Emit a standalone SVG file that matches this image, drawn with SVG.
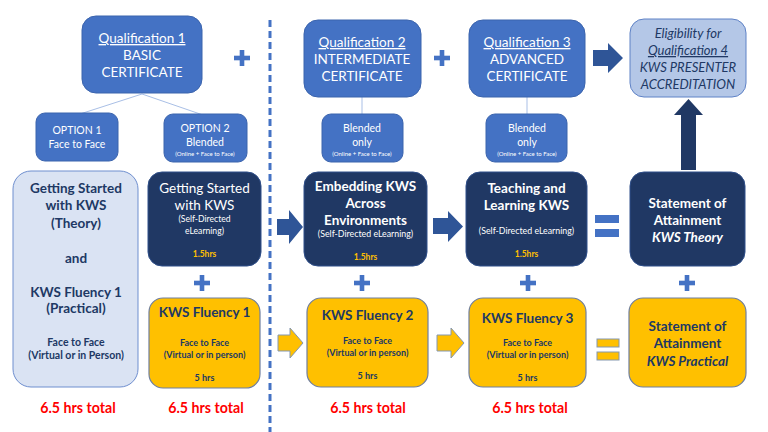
<svg xmlns="http://www.w3.org/2000/svg" width="768" height="432" viewBox="0 0 768 432">
<style>
text{font-family:Lato,"Open Sans",sans-serif;text-anchor:middle}
.q{fill:#4472c4;stroke:#3b64ad;stroke-width:1}
.nv{fill:#203864;stroke:#2f4f8a;stroke-width:1}
.yl{fill:#ffc000;stroke:#6f7fa0;stroke-width:1.2}
.w{fill:#fff}
.d{fill:#203864}
.g{fill:#ffc000;font-weight:bold}
.r{fill:#ff0000;font-weight:bold;font-size:14.2px}
.b{font-weight:bold}
.plus{fill:#4472c4}
.link{stroke:#a9bfe6;stroke-width:1;fill:none}
</style>
<defs>
<g id="plus"><rect x="-8" y="-2.3" width="16" height="4.6"/><rect x="-2.3" y="-8" width="4.6" height="16"/></g>
</defs>
<rect width="768" height="432" fill="#fff"/>
<line x1="270" y1="20" x2="270" y2="432" stroke="#4472c4" stroke-width="3" stroke-dasharray="7,4"/>
<g id="connectors">
<line class="link" x1="142" y1="94" x2="80" y2="114"/>
<line class="link" x1="142" y1="94" x2="203" y2="115"/>
<line class="link" x1="362" y1="97" x2="362" y2="114"/>
<line class="link" x1="527" y1="97" x2="527" y2="114"/>
<polygon points="593,50 608,50 608,43 623,58 608,73 608,66 593,66" fill="#2f5597"/>
<polygon points="681,170 681,115 674,115 688.5,99 703,115 696,115 696,170" fill="#203864"/>
<polygon points="277,219 289,219 289,210 303,227 289,244 289,235 277,235" fill="#2f5597"/>
<polygon points="433,218 448,218 448,211 463,226.5 448,242 448,234 433,234" fill="#2f5597"/>
<polygon points="278,335 290,335 290,328 303,343 290,358 290,351 278,351" fill="#ffc000" stroke="#8497b0" stroke-width="1"/>
<polygon points="437,335 451,335 451,328 464,343 451,358 451,351 437,351" fill="#ffc000" stroke="#8497b0" stroke-width="1"/>
<rect x="595" y="215" width="24" height="8" fill="#4472c4"/>
<rect x="595" y="229" width="24" height="8" fill="#4472c4"/>
<rect x="597" y="339" width="22" height="8" fill="#ffc000" stroke="#8497b0" stroke-width="1"/>
<rect x="597" y="352" width="22" height="8" fill="#ffc000" stroke="#8497b0" stroke-width="1"/>
<use href="#plus" x="242" y="58" class="plus"/>
<use href="#plus" x="442" y="58" class="plus"/>
<use href="#plus" x="202" y="283" class="plus"/>
<use href="#plus" x="362" y="283" class="plus"/>
<use href="#plus" x="528" y="283" class="plus"/>
<use href="#plus" x="687" y="283" class="plus"/>
</g>
<g id="q1">
<rect class="q" x="82" y="16" width="120" height="77" rx="14"/>
<text class="w" font-size="13.5" x="142" y="43" text-decoration="underline">Qualification 1</text>
<text class="w" font-size="13.5" x="142" y="60">BASIC</text>
<text class="w" font-size="13.5" x="142" y="77">CERTIFICATE</text>
</g>
<g id="opt1">
<rect class="q" x="36" y="113" width="82" height="48" rx="9"/>
<text class="w" font-size="10.5" x="77" y="134">OPTION 1</text>
<text class="w" font-size="10.5" x="77" y="148">Face to Face</text>
</g>
<g id="opt2">
<rect class="q" x="164" y="114" width="83" height="48" rx="9"/>
<text class="w" font-size="10.5" x="205" y="132">OPTION 2</text>
<text class="w" font-size="10.5" x="205" y="146">Blended</text>
<text class="w" font-size="6" x="205" y="155.5">(Online + Face to Face)</text>
</g>
<g id="q2">
<rect class="q" x="304" y="20" width="117" height="77" rx="14"/>
<text class="w" font-size="13.5" x="362" y="47" text-decoration="underline">Qualification 2</text>
<text class="w" font-size="13.5" x="362" y="64">INTERMEDIATE</text>
<text class="w" font-size="13.5" x="362" y="81">CERTIFICATE</text>
</g>
<g id="blend2">
<rect class="q" x="322" y="114" width="81" height="48" rx="9"/>
<text class="w" font-size="10.5" x="362" y="132">Blended</text>
<text class="w" font-size="10.5" x="362" y="146">only</text>
<text class="w" font-size="6" x="362" y="155.5">(Online + Face to Face)</text>
</g>
<g id="q3">
<rect class="q" x="469" y="20" width="116" height="77" rx="14"/>
<text class="w" font-size="13.5" x="527" y="47" text-decoration="underline">Qualification 3</text>
<text class="w" font-size="13.5" x="527" y="64">ADVANCED</text>
<text class="w" font-size="13.5" x="527" y="81">CERTIFICATE</text>
</g>
<g id="blend3">
<rect class="q" x="486" y="114" width="81" height="48" rx="9"/>
<text class="w" font-size="10.5" x="527" y="132">Blended</text>
<text class="w" font-size="10.5" x="527" y="146">only</text>
<text class="w" font-size="6" x="527" y="155.5">(Online + Face to Face)</text>
</g>
<g id="elig">
<rect x="630" y="19" width="116" height="78" rx="14" fill="#b4c7e7" stroke="#5f82c6" stroke-width="1"/>
<g font-style="italic" font-size="13" class="d">
<text x="688" y="38">Eligibility for</text>
<text x="688" y="55" text-decoration="underline">Qualification 4</text>
<text x="688" y="72">KWS PRESENTER</text>
<text x="688" y="89">ACCREDITATION</text>
</g>
</g>
<g id="left">
<rect x="13" y="171" width="125" height="216" rx="18" fill="#dae3f3" stroke="#6f8fcf" stroke-width="1"/>
<g class="d b" font-size="13.5">
<text x="76" y="193">Getting Started</text>
<text x="76" y="210">with KWS</text>
<text x="76" y="228">(Theory)</text>
<text x="76" y="263">and</text>
<text x="76" y="297">KWS Fluency 1</text>
<text x="76" y="313">(Practical)</text>
</g>
<g class="d b" font-size="10.5">
<text x="76" y="346">Face to Face</text>
<text x="76" y="359">(Virtual or in Person)</text>
</g>
</g>
<g id="gs">
<rect class="nv" x="148" y="172" width="113" height="94" rx="14"/>
<text class="w" font-size="13.5" x="204.5" y="193">Getting Started</text>
<text class="w" font-size="13.5" x="204.5" y="210">with KWS</text>
<text class="w" font-size="8.6" x="204.5" y="222">(Self-Directed</text>
<text class="w" font-size="8.6" x="204.5" y="234">eLearning)</text>
<text class="g" font-size="8.5" x="204.5" y="257">1.5hrs</text>
</g>
<g id="emb">
<rect class="nv" x="304" y="172" width="123" height="94" rx="14"/>
<g class="w b" font-size="13.5">
<text x="365.5" y="191">Embedding KWS</text>
<text x="365.5" y="208">Across</text>
<text x="365.5" y="225">Environments</text>
</g>
<text class="w" font-size="8.8" x="365.5" y="237">(Self-Directed eLearning)</text>
<text class="g" font-size="8.5" x="365.5" y="260">1.5hrs</text>
</g>
<g id="teach">
<rect class="nv" x="466" y="172" width="121" height="94" rx="14"/>
<g class="w b" font-size="13.5">
<text x="526.5" y="193">Teaching and</text>
<text x="526.5" y="210">Learning KWS</text>
</g>
<text class="w" font-size="8.8" x="526.5" y="234">(Self-Directed eLearning)</text>
<text class="g" font-size="8.5" x="526.5" y="257">1.5hrs</text>
</g>
<g id="soaT">
<rect class="nv" x="630" y="172" width="115" height="94" rx="14"/>
<g class="w b" font-size="13.5">
<text x="687.5" y="208">Statement of</text>
<text x="687.5" y="225">Attainment</text>
<text x="687.5" y="242" font-style="italic">KWS Theory</text>
</g>
</g>
<g id="f1">
<rect class="yl" x="149" y="298" width="111" height="90" rx="14"/>
<text class="d b" font-size="13.5" x="204.5" y="317">KWS Fluency 1</text>
<text class="d b" font-size="9" x="204.5" y="346">Face to Face</text>
<text class="d b" font-size="9" x="204.5" y="357.5">(Virtual or in person)</text>
<text class="d b" font-size="9" x="204.5" y="381">5 hrs</text>
</g>
<g id="f2">
<rect class="yl" x="307" y="298" width="121" height="89" rx="14"/>
<text class="d b" font-size="13.5" x="367.5" y="320">KWS Fluency 2</text>
<text class="d b" font-size="9" x="367.5" y="344">Face to Face</text>
<text class="d b" font-size="9" x="367.5" y="355.5">(Virtual or in person)</text>
<text class="d b" font-size="9" x="367.5" y="379">5 hrs</text>
</g>
<g id="f3">
<rect class="yl" x="469" y="298" width="117" height="89" rx="14"/>
<text class="d b" font-size="13.5" x="527.5" y="323">KWS Fluency 3</text>
<text class="d b" font-size="9" x="527.5" y="346">Face to Face</text>
<text class="d b" font-size="9" x="527.5" y="357.5">(Virtual or in person)</text>
<text class="d b" font-size="9" x="527.5" y="381">5 hrs</text>
</g>
<g id="soaP">
<rect class="yl" x="629" y="298" width="117" height="89" rx="14"/>
<g class="d b" font-size="13.5">
<text x="687.5" y="331">Statement of</text>
<text x="687.5" y="348">Attainment</text>
<text x="687.5" y="366" font-style="italic">KWS Practical</text>
</g>
</g>
<g id="totals">
<text class="r" x="78" y="413">6.5 hrs total</text>
<text class="r" x="206" y="413">6.5 hrs total</text>
<text class="r" x="368" y="413">6.5 hrs total</text>
<text class="r" x="530" y="413">6.5 hrs total</text>
</g>
</svg>
